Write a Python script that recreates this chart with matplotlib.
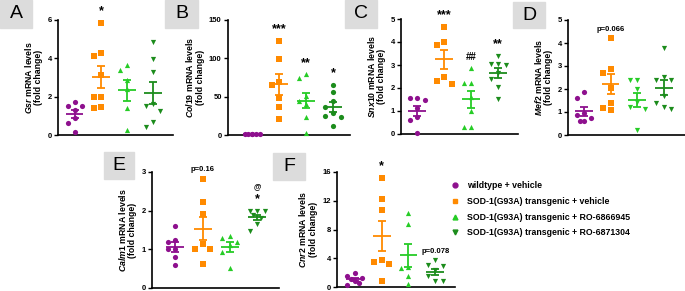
import numpy as np
import matplotlib.pyplot as plt
from matplotlib.lines import Line2D
from matplotlib.patches import Rectangle

plt.rcParams['font.family'] = ['Liberation Sans', 'DejaVu Sans']
plt.rcParams['font.weight'] = 'bold'
plt.rcParams['mathtext.fontset'] = 'custom'
plt.rcParams['mathtext.it'] = 'Liberation Sans:italic:bold'
plt.rcParams['mathtext.rm'] = 'Liberation Sans:bold'

groups = ['wildtype + vehicle', 'SOD-1(G93A) transgenic + vehicle',
          'SOD-1(G93A) transgenic + RO-6866945', 'SOD-1(G93A) transgenic + RO-6871304']
colors = ['#8e108e', '#ff8a00', '#26cc26', '#1c8c1c']

# values (fold change)
gsr = [[1.7, 1.5, 1.5, 1.3, 0.9, 0.65, 0.15],
       [5.85, 4.3, 4.1, 3.15, 2.0, 2.0, 1.45, 1.4],
       [3.65, 3.4, 2.85, 2.4, 1.4, 0.25],
       [4.85, 3.95, 3.3, 1.6, 1.5, 1.25, 0.7, 0.4]]
col19 = [[1.5, 1.0, 0.8, 1.2, 0.9, 1.1],
         [123, 99, 69, 65, 48, 37, 21],
         [79, 75, 51, 44, 40, 23, 3],
         [65, 56, 44, 37, 29, 25, 23, 12]]
snx10 = [[1.56, 1.56, 1.48, 1.12, 0.73, 0.61, 0.03],
         [4.65, 3.98, 3.88, 2.46, 2.31, 2.18],
         [2.86, 2.21, 2.21, 1.6, 0.99, 0.32, 0.32],
         [3.4, 3.05, 3.05, 3.0, 2.65, 2.4, 2.03, 1.54]]
mef2 = [[1.85, 1.63, 0.95, 0.88, 0.74, 0.6, 0.6],
        [4.2, 2.86, 2.69, 2.05, 1.4, 1.18, 1.07],
        [2.4, 2.4, 1.98, 1.42, 1.21, 1.15, 0.2],
        [3.79, 2.51, 2.4, 2.4, 1.68, 1.4, 1.21, 1.11]]
calm1 = [[1.6, 1.24, 1.18, 1.02, 1.0, 0.8, 0.6],
         [2.82, 2.22, 1.91, 1.14, 1.02, 1.02, 0.63],
         [1.35, 1.3, 1.18, 1.1, 0.94, 0.52],
         [1.98, 1.98, 1.98, 1.89, 1.82, 1.65, 1.47]]
cnr2 = [[1.9, 1.5, 1.3, 1.1, 0.9, 0.6, 0.3],
        [15.2, 12.3, 10.7, 3.8, 3.5, 3.2, 0.8],
        [10.3, 8.7, 2.8, 2.6, 1.5, 0.4],
        [3.7, 3.0, 2.9, 2.3, 1.5, 0.8, 0.8]]

panels = [
    dict(letter='A', gene='Gsr', data=gsr, ymax=6, yticks=[0, 2, 4, 6],
         markers=['o', 's', '^', 'v'], notes={1: ['*']},
         ax=(58, 20, 173, 135), box=(0, 0, 32, 28), xlim=(0.35, 4.77)),
    dict(letter='B', gene='Col19', data=col19, ymax=150, yticks=[0, 50, 100, 150],
         markers=['o', 's', '^', 'o'], notes={1: ['***'], 2: ['**'], 3: ['*']},
         ax=(228, 20, 350, 135), box=(165, 0, 198, 28), xlim=(0.1, 4.63)),
    dict(letter='C', gene='Snx10', data=snx10, ymax=5, yticks=[0, 1, 2, 3, 4, 5],
         markers=['o', 's', '^', 'v'], notes={1: ['***'], 2: ['##'], 3: ['**']},
         ax=(401, 19, 518, 134), box=(345, 0, 377, 28), xlim=(0.4, 4.74)),
    dict(letter='D', gene='Mef2', data=mef2, ymax=5, yticks=[0, 1, 2, 3, 4, 5],
         markers=['o', 's', 'v', 'v'], notes={1: ['p=0.066']},
         ax=(568, 20, 685, 135), box=(513, 2, 545, 28), xlim=(0.4, 4.8)),
    dict(letter='E', gene='Calm1', data=calm1, ymax=3, yticks=[0, 1, 2, 3],
         markers=['o', 's', '^', 'v'], notes={1: ['p=0.16'], 3: ['*', '@']},
         ax=(152, 172, 279, 288), box=(104, 152, 134, 179), xlim=(0.15, 4.8)),
    dict(letter='F', gene='Cnr2', data=cnr2, ymax=16, yticks=[0, 4, 8, 12, 16],
         markers=['o', 's', '^', 'v'], notes={1: ['*'], 3: ['p=0.078']},
         ax=(337, 172, 455, 287), box=(273, 153, 305, 180), xlim=(0.33, 4.74)),
]

W, H = 685, 291
fig = plt.figure(figsize=(W / 100, H / 100), dpi=100)


def frac(l, t, r, b):
    return [l / W, 1 - b / H, (r - l) / W, (b - t) / H]


def swarm(vals, ymax, dx=0.28, ry=0.06):
    # spread points sideways like a prism scatter plot
    order = np.argsort(vals)[::-1]
    placed = []
    offs = np.zeros(len(vals))
    cands = [0, -dx, dx, -dx / 2, dx / 2]
    for i in order:
        y = vals[i] / ymax
        best, bestd = 0, -1
        for c in cands:
            d = min([np.hypot((c - px) / (dx * 0.5), (y - py) / ry) for px, py in placed] + [9])
            if d >= 1:
                best = c
                break
            if d > bestd:
                best, bestd = c, d
        offs[i] = best
        placed.append((best, y))
    return offs


for p in panels:
    ax = fig.add_axes(frac(*p['ax']))
    for k, vals in enumerate(p['data']):
        vals = np.array(vals, dtype=float)
        x = k + 1
        offs = swarm(vals, p['ymax'])
        ax.scatter(x + offs, vals, marker=p['markers'][k], s=14, color=colors[k],
                   linewidths=0, clip_on=False, zorder=3)
        m = vals.mean()
        sem = vals.std(ddof=1) / np.sqrt(len(vals))
        ax.hlines(m, x - 0.33, x + 0.33, color=colors[k], lw=1.3, zorder=4)
        ax.errorbar(x, m, yerr=sem, color=colors[k], capsize=2.6, capthick=1.3,
                    elinewidth=1.3, fmt='none', zorder=4)
        for j, txt in enumerate(p['notes'].get(k, [])):
            top = vals.max() + 0.05 * p['ymax'] + j * 0.13 * p['ymax']
            if '*' in txt:
                fs = 9
            elif '#' in txt:
                fs = 7
            else:
                fs = 5.5
            ax.text(x, top, txt, ha='center', va='bottom', fontsize=fs,
                    fontweight='bold', clip_on=False)
    ax.set_ylim(0, p['ymax'])
    ax.set_xlim(*p['xlim'])
    ax.set_yticks(p['yticks'])
    ax.set_xticks([])
    for s in ['top', 'right']:
        ax.spines[s].set_visible(False)
    for s in ['left', 'bottom']:
        ax.spines[s].set_linewidth(1.2)
    ax.tick_params(axis='y', length=3, width=1, labelsize=5.5, pad=1.5)
    ax.set_ylabel('$\\it{' + p['gene'] + '}$ mRNA levels\n(fold change)',
                  fontsize=6.3, fontweight='bold', labelpad=3, linespacing=1.1)
    l, t, r, b = p['box']
    fig.patches.append(Rectangle((l / W, 1 - b / H), (r - l) / W, (b - t) / H,
                                 transform=fig.transFigure, color='#dcdcdc', zorder=0))
    fig.text((l + r) / 2 / W, 1 - (t + b) / 2 / H, p['letter'], ha='center', va='center',
             fontsize=14, fontweight='normal')

handles = [Line2D([], [], marker=mk, color=c, linestyle='none', markersize=3.5)
           for mk, c in zip(['o', 's', '^', 'v'], colors)]
fig.legend(handles, groups, loc='upper left', bbox_to_anchor=(446 / W, 1 - 178 / H),
           frameon=False, handlelength=1.2, handletextpad=0.8, labelspacing=0.75,
           prop={'size': 6.3, 'weight': 'bold'}, borderaxespad=0)

fig.savefig('out.png', dpi=100)
